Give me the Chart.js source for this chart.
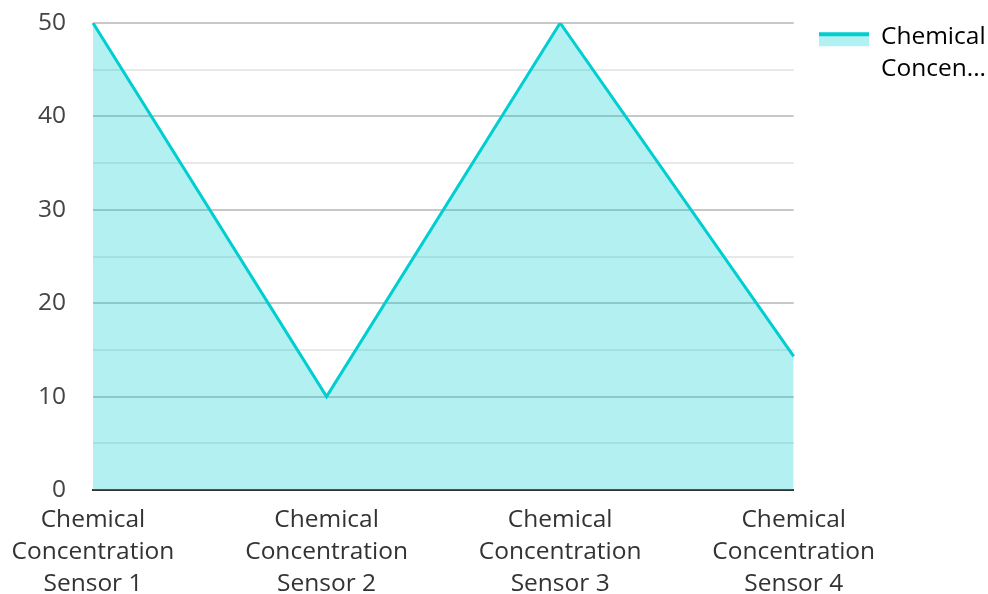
<!DOCTYPE html>
<html>
<head>
<meta charset="utf-8">
<script src="https://cdn.jsdelivr.net/npm/chart.js@4/dist/chart.umd.min.js"></script>
<style>
  html, body { margin: 0; padding: 0; background: #ffffff; }
  #wrap { width: 988px; height: 594px; position: relative; }
</style>
</head>
<body>
<div id="wrap"><canvas id="chart"></canvas></div>
<script>
// Sensor readings
const categories = [
  ['Chemical', 'Concentration', 'Sensor 1'],
  ['Chemical', 'Concentration', 'Sensor 2'],
  ['Chemical', 'Concentration', 'Sensor 3'],
  ['Chemical', 'Concentration', 'Sensor 4']
];
const seriesName = 'Chemical Concentration';
const legendLines = ['Chemical', 'Concen...'];
const concentrationValues = [50, 10, 50, 14.3];
const yTickValues = [0, 10, 20, 30, 40, 50];

const lineColor = '#00CED1';
const areaColor = 'rgba(0, 206, 209, 0.3)';
const fontFamily = '"Open Sans", "Noto Sans", sans-serif';
const fontSize = 24.5;

// Legend swatch: line on top of a filled band
function makeSwatch() {
  const c = document.createElement('canvas');
  c.width = 50; c.height = 20;
  const g = c.getContext('2d');
  g.fillStyle = areaColor;
  g.fillRect(0, 8, 50, 11);
  g.fillStyle = lineColor;
  g.fillRect(0, 5, 50, 4);
  return c;
}
const swatch = makeSwatch();

new Chart(document.getElementById('chart'), {
  type: 'line',
  data: {
    labels: categories,
    datasets: [{
      label: seriesName,
      data: concentrationValues,
      borderColor: lineColor,
      backgroundColor: areaColor,
      borderWidth: 3,
      fill: 'origin',
      tension: 0,
      pointRadius: 0,
      pointHoverRadius: 0
    }]
  },
  options: {
    responsive: true,
    maintainAspectRatio: false,
    animation: false,
    layout: { padding: { top: 0, right: -8, left: 0, bottom: 0 } },
    plugins: {
      tooltip: { enabled: false },
      legend: {
        position: 'right',
        align: 'start',
        labels: {
          usePointStyle: true,
          pointStyleWidth: 50,
          boxHeight: 14,
          padding: 25,
          color: '#333333',
          font: { family: fontFamily, size: fontSize, lineHeight: 1.3 },
          generateLabels: () => [{
            text: legendLines,
            pointStyle: swatch,
            fillStyle: areaColor,
            strokeStyle: lineColor,
            lineWidth: 0,
            datasetIndex: 0,
            hidden: false
          }]
        }
      }
    },
    scales: {
      x: {
        offset: false,
        grid: { display: false, drawTicks: false },
        border: { display: true, color: '#333333', width: 2 },
        ticks: {
          color: '#333333',
          padding: 14,
          maxRotation: 0,
          autoSkip: false,
          font: { family: fontFamily, size: fontSize, lineHeight: 1.3 }
        },
        afterFit: (scale) => {
          scale.height = 104;
          scale.paddingLeft = 0;
          scale.paddingRight = 0;
        }
      },
      y: {
        min: 0,
        max: 50,
        afterBuildTicks: (scale) => {
          const t = [];
          for (let v = 0; v <= 50; v += 5) t.push({ value: v });
          scale.ticks = t;
        },
        grid: {
          drawTicks: false,
          color: (ctx) => (ctx.tick && ctx.tick.value % 10 === 0) ? '#c8c8c8' : '#e8e8e8',
          lineWidth: 2
        },
        border: { display: false },
        ticks: {
          color: '#444444',
          padding: 27,
          autoSkip: false,
          font: { family: fontFamily, size: fontSize },
          callback: (v) => yTickValues.includes(v) ? String(v) : ''
        },
        afterFit: (scale) => {
          scale.width = 93;
          scale.paddingTop = 23;
          scale.paddingBottom = 0;
        }
      }
    }
  }
});
</script>
</body>
</html>
